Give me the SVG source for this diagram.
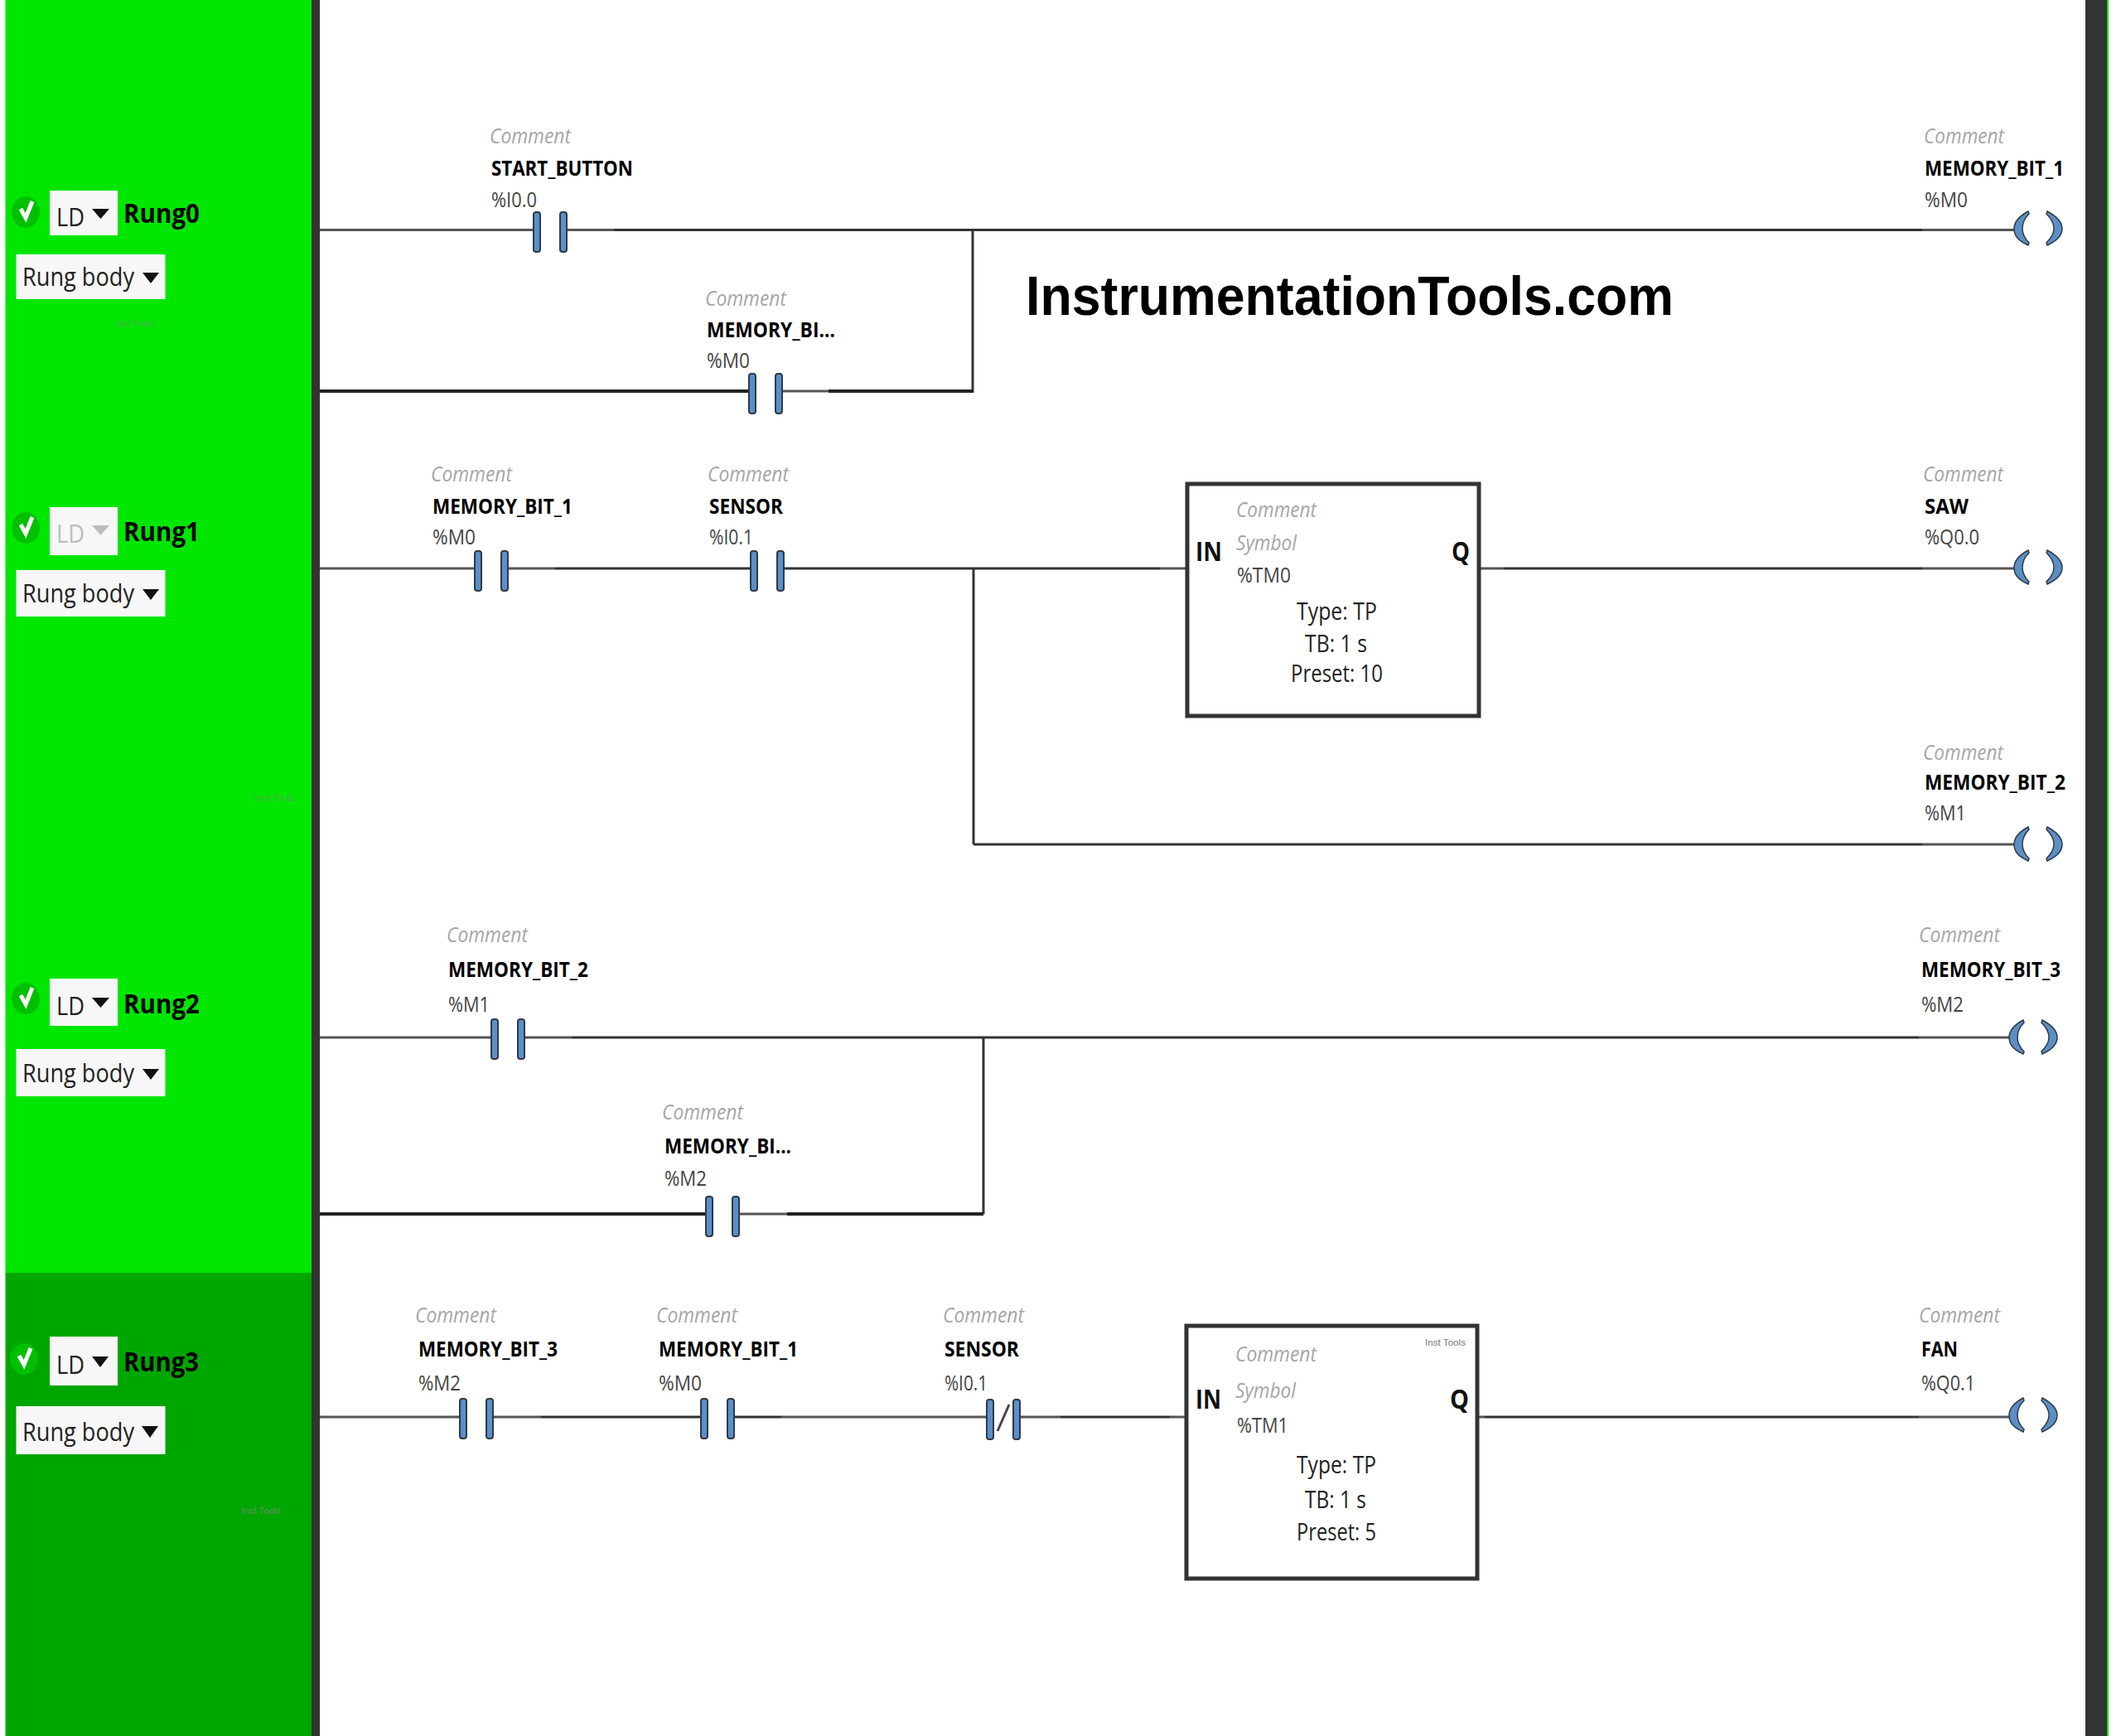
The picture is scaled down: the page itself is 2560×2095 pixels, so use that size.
<svg xmlns="http://www.w3.org/2000/svg" width="2560" height="2095" viewBox="0 0 2560 2095">
<style>
text{font-family:"Open Sans","Noto Sans","Liberation Sans",sans-serif;font-size:25px;fill:#222}
.c{fill:#a6a6a6;font-style:italic;font-weight:400}
.n{fill:#000;font-weight:700}
.a{fill:#444}
.p{font-size:29px;fill:#222}
.pin{font-size:32px;font-weight:700;fill:#111}
.r{font-size:33px;font-weight:700;fill:#000}
.d{font-size:31px;fill:#222}
.dis{fill:#bdbdbd}
.wm{font-family:"Liberation Sans",Arial,sans-serif;font-weight:700;font-size:66px;fill:#000}
.it{font-family:"Liberation Sans",Arial,sans-serif;font-size:10px;fill:#7a7a7a}
.box{fill:#f7f7f7}
.tri{fill:#111}
.w1{stroke:#555;stroke-width:3;fill:none}
.w2{stroke:#333;stroke-width:3;fill:none}
.w3{stroke:#222;stroke-width:4;fill:none}
.bar{fill:#5b8fc9;stroke:#2f3a46;stroke-width:2}
.pbody{fill:#5b8fc4;stroke:#2f3a46;stroke-width:1.500}
.tm{fill:#fff;stroke:#333;stroke-width:5}
</style>
<defs>
<g id="contact"><rect class="bar" x="-4" y="-23" width="8" height="48" rx="3"/><rect class="bar" x="28" y="-23" width="8" height="48" rx="3"/></g>
<g id="coil"><path class="pbody" d="M16-21C3-14-1-7-1 0C-1 8 3 14 16 20L17 17C11 11 9 6 9 0C9-6 11-12 17-18Z"/><path class="pbody" d="M39-21C52-14 57-7 57 0C57 8 52 14 39 20L38 17C44 11 47 6 47 0C47-6 44-12 38-18Z"/></g>
<g id="check"><ellipse rx="17" ry="19" fill="#00c000"/><path d="M-6-4L0 7L8-13" fill="none" stroke="#fff" stroke-width="5"/></g>
</defs>
<rect width="2560" height="2095" fill="#fff"/>
<rect x="6.500" y="0" width="369.500" height="1536" fill="#00e600"/>
<rect x="6.500" y="1536" width="369.500" height="559" fill="#00a600"/>
<rect x="376" y="0" width="10" height="2095" fill="#333"/>
<rect x="2517" y="0" width="26" height="2095" fill="#333"/>
<rect x="2543" y="0" width="2" height="2095" fill="#00e600"/>

<g id="connectors">
<path class="w1" d="M386 277.500H644M680 277.500H741M2320 277.500H2432"/><path class="w2" d="M741 277.500H2320M1174 277.500V474"/>
<path class="w3" d="M386 472H904M1000 472H1174"/><path class="w1" d="M943 472H1000"/>
<path class="w1" d="M386 686H572M613 686H670M1400 686H1432M1786 686H1815M2320 686H2432"/><path class="w2" d="M670 686H906M946 686H1400M1815 686H2320M1175 686V1019"/>
<path class="w1" d="M2320 1019H2432"/><path class="w2" d="M1175 1019H2320"/>
<path class="w1" d="M386 1252H592M631 1252H690M2316 1252H2427"/><path class="w2" d="M690 1252H2316M1187 1252V1465"/>
<path class="w3" d="M386 1465H852M950 1465H1187"/><path class="w1" d="M891 1465H950"/>
<path class="w1" d="M386 1710H555M594 1710H653M943 1710H1191M1231 1710H1280M1412 1710H1431M1784 1710H1792M2316 1710H2427"/><path class="w2" d="M653 1710H845M1280 1710H1412M1792 1710H2316"/>
<path class="w2" d="M885 1710H943"/>
</g>

<g id="rung0-panel">
<use href="#check" x="31" y="256"/>
<rect class="box" x="60" y="230" width="82" height="54"/><text class="d" x="68" y="273" textLength="34" lengthAdjust="spacingAndGlyphs">LD</text><path class="tri" d="M111 252H132L121.500 264Z"/>
<text class="r" x="149" y="269" textLength="92" lengthAdjust="spacingAndGlyphs">Rung0</text>
<rect class="box" x="19.500" y="307" width="180" height="54"/><text class="d" x="27" y="345" textLength="135" lengthAdjust="spacingAndGlyphs">Rung body</text><path class="tri" d="M172 329H192L182 342Z"/>
<text class="it" x="139" y="394" textLength="49" lengthAdjust="spacingAndGlyphs" style="fill:#48b048">Inst Tools</text>
</g>
<g id="rung1-panel">
<use href="#check" x="31" y="637"/>
<rect class="box" x="60" y="612" width="82" height="58"/><text class="d dis" x="68" y="655" textLength="34" lengthAdjust="spacingAndGlyphs">LD</text><path d="M111 634H132L121.500 646Z" fill="#bdbdbd"/>
<text class="r" x="149" y="653" textLength="92" lengthAdjust="spacingAndGlyphs">Rung1</text>
<rect class="box" x="19.500" y="688" width="180" height="56"/><text class="d" x="27" y="727" textLength="135" lengthAdjust="spacingAndGlyphs">Rung body</text><path class="tri" d="M172 711H192L182 724Z"/>
<text class="it" x="307" y="967" textLength="49" lengthAdjust="spacingAndGlyphs" style="fill:#48b048">Inst Tools</text>
</g>
<g id="rung2-panel">
<use href="#check" x="31" y="1205"/>
<rect class="box" x="60" y="1181" width="82" height="57"/><text class="d" x="68" y="1225" textLength="34" lengthAdjust="spacingAndGlyphs">LD</text><path class="tri" d="M111 1204H132L121.500 1216Z"/>
<text class="r" x="149" y="1223" textLength="92" lengthAdjust="spacingAndGlyphs">Rung2</text>
<rect class="box" x="19.500" y="1266" width="180" height="57"/><text class="d" x="27" y="1306" textLength="135" lengthAdjust="spacingAndGlyphs">Rung body</text><path class="tri" d="M172 1290H192L182 1303Z"/>
</g>
<g id="rung3-panel">
<use href="#check" x="29" y="1640"/>
<rect class="box" x="60" y="1613" width="82" height="59"/><text class="d" x="68" y="1658" textLength="34" lengthAdjust="spacingAndGlyphs">LD</text><path class="tri" d="M111 1637H131L121 1650Z"/>
<text class="r" x="149" y="1655" textLength="91" lengthAdjust="spacingAndGlyphs">Rung3</text>
<rect class="box" x="19.500" y="1697" width="180" height="58"/><text class="d" x="27" y="1739" textLength="135" lengthAdjust="spacingAndGlyphs">Rung body</text><path class="tri" d="M171 1721H191L181 1735Z"/>
<text class="it" x="291" y="1827" textLength="48" lengthAdjust="spacingAndGlyphs" style="fill:#6a8f6a">Inst Tools</text>
</g>

<g id="start-button">
<text class="c" x="591" y="173" textLength="98" lengthAdjust="spacingAndGlyphs">Comment</text>
<text class="n" x="593" y="212" textLength="171" lengthAdjust="spacingAndGlyphs">START_BUTTON</text>
<text class="a" x="593" y="250" textLength="55" lengthAdjust="spacingAndGlyphs">%I0.0</text>
<use href="#contact" x="648" y="279"/>
</g>
<g id="memory-bit-1-coil">
<text class="c" x="2322" y="173" textLength="97" lengthAdjust="spacingAndGlyphs">Comment</text>
<text class="n" x="2323" y="212" textLength="168" lengthAdjust="spacingAndGlyphs">MEMORY_BIT_1</text>
<text class="a" x="2323" y="250" textLength="52" lengthAdjust="spacingAndGlyphs">%M0</text>
<use href="#coil" x="2432" y="276"/>
</g>
<g id="memory-bit-holding-0">
<text class="c" x="851" y="369" textLength="98" lengthAdjust="spacingAndGlyphs">Comment</text>
<text class="n" x="853" y="407" textLength="155" lengthAdjust="spacingAndGlyphs">MEMORY_BI...</text>
<text class="a" x="853" y="444" textLength="52" lengthAdjust="spacingAndGlyphs">%M0</text>
<use href="#contact" x="908" y="474"/>
</g>
<g id="watermark">
<text class="wm" x="1238" y="380" textLength="782" lengthAdjust="spacingAndGlyphs">InstrumentationTools.com</text>
</g>

<g id="memory-bit-1-r1">
<text class="c" x="520" y="581" textLength="98" lengthAdjust="spacingAndGlyphs">Comment</text>
<text class="n" x="522" y="620" textLength="169" lengthAdjust="spacingAndGlyphs">MEMORY_BIT_1</text>
<text class="a" x="522" y="657" textLength="52" lengthAdjust="spacingAndGlyphs">%M0</text>
<use href="#contact" x="577" y="688"/>
</g>
<g id="sensor-r1">
<text class="c" x="854" y="581" textLength="98" lengthAdjust="spacingAndGlyphs">Comment</text>
<text class="n" x="856" y="620" textLength="89" lengthAdjust="spacingAndGlyphs">SENSOR</text>
<text class="a" x="856" y="657" textLength="53" lengthAdjust="spacingAndGlyphs">%I0.1</text>
<use href="#contact" x="910" y="688"/>
</g>
<g id="timer-tm0">
<rect class="tm" x="1433" y="584" width="352" height="280"/>
<text class="pin" x="1443" y="677" textLength="32" lengthAdjust="spacingAndGlyphs">IN</text>
<text class="pin" x="1752" y="677" textLength="22" lengthAdjust="spacingAndGlyphs">Q</text>
<text class="c" x="1492" y="624" textLength="97" lengthAdjust="spacingAndGlyphs">Comment</text>
<text class="c" x="1492" y="664" textLength="73" lengthAdjust="spacingAndGlyphs">Symbol</text>
<text class="a" x="1493" y="703" textLength="65" lengthAdjust="spacingAndGlyphs">%TM0</text>
<text class="p" x="1565" y="748" textLength="97" lengthAdjust="spacingAndGlyphs">Type: TP</text>
<text class="p" x="1575" y="787" textLength="75" lengthAdjust="spacingAndGlyphs">TB: 1 s</text>
<text class="p" x="1558" y="823" textLength="111" lengthAdjust="spacingAndGlyphs">Preset: 10</text>
</g>
<g id="saw-coil">
<text class="c" x="2321" y="581" textLength="97" lengthAdjust="spacingAndGlyphs">Comment</text>
<text class="n" x="2323" y="620" textLength="53" lengthAdjust="spacingAndGlyphs">SAW</text>
<text class="a" x="2323" y="657" textLength="66" lengthAdjust="spacingAndGlyphs">%Q0.0</text>
<use href="#coil" x="2432" y="685"/>
</g>
<g id="memory-bit-2-coil">
<text class="c" x="2321" y="917" textLength="97" lengthAdjust="spacingAndGlyphs">Comment</text>
<text class="n" x="2323" y="953" textLength="170" lengthAdjust="spacingAndGlyphs">MEMORY_BIT_2</text>
<text class="a" x="2323" y="990" textLength="50" lengthAdjust="spacingAndGlyphs">%M1</text>
<use href="#coil" x="2432" y="1019"/>
</g>

<g id="memory-bit-2-r2">
<text class="c" x="539" y="1137" textLength="98" lengthAdjust="spacingAndGlyphs">Comment</text>
<text class="n" x="541" y="1179" textLength="169" lengthAdjust="spacingAndGlyphs">MEMORY_BIT_2</text>
<text class="a" x="541" y="1221" textLength="50" lengthAdjust="spacingAndGlyphs">%M1</text>
<use href="#contact" x="597" y="1253"/>
</g>
<g id="memory-bit-3-coil">
<text class="c" x="2316" y="1137" textLength="98" lengthAdjust="spacingAndGlyphs">Comment</text>
<text class="n" x="2319" y="1179" textLength="168" lengthAdjust="spacingAndGlyphs">MEMORY_BIT_3</text>
<text class="a" x="2319" y="1221" textLength="51" lengthAdjust="spacingAndGlyphs">%M2</text>
<use href="#coil" x="2426" y="1252"/>
</g>
<g id="memory-bit-holding-2">
<text class="c" x="799" y="1351" textLength="98" lengthAdjust="spacingAndGlyphs">Comment</text>
<text class="n" x="802" y="1392" textLength="153" lengthAdjust="spacingAndGlyphs">MEMORY_BI...</text>
<text class="a" x="802" y="1431" textLength="51" lengthAdjust="spacingAndGlyphs">%M2</text>
<use href="#contact" x="856" y="1467"/>
</g>

<g id="memory-bit-3-r3">
<text class="c" x="501" y="1596" textLength="98" lengthAdjust="spacingAndGlyphs">Comment</text>
<text class="n" x="505" y="1637" textLength="168" lengthAdjust="spacingAndGlyphs">MEMORY_BIT_3</text>
<text class="a" x="505" y="1678" textLength="51" lengthAdjust="spacingAndGlyphs">%M2</text>
<use href="#contact" x="559" y="1711"/>
</g>
<g id="memory-bit-1-r3">
<text class="c" x="792" y="1596" textLength="98" lengthAdjust="spacingAndGlyphs">Comment</text>
<text class="n" x="795" y="1637" textLength="168" lengthAdjust="spacingAndGlyphs">MEMORY_BIT_1</text>
<text class="a" x="795" y="1678" textLength="52" lengthAdjust="spacingAndGlyphs">%M0</text>
<use href="#contact" x="850" y="1711"/>
</g>
<g id="sensor-r3">
<text class="c" x="1138" y="1596" textLength="98" lengthAdjust="spacingAndGlyphs">Comment</text>
<text class="n" x="1140" y="1637" textLength="90" lengthAdjust="spacingAndGlyphs">SENSOR</text>
<text class="a" x="1140" y="1678" textLength="52" lengthAdjust="spacingAndGlyphs">%I0.1</text>
<use href="#contact" x="1195" y="1712"/>
<path d="M1204 1727L1218 1695" stroke="#444" stroke-width="3" fill="none"/>
</g>
<g id="timer-tm1">
<rect class="tm" x="1432" y="1600" width="351" height="305"/>
<text class="pin" x="1443" y="1700" textLength="31" lengthAdjust="spacingAndGlyphs">IN</text>
<text class="pin" x="1750" y="1700" textLength="23" lengthAdjust="spacingAndGlyphs">Q</text>
<text class="c" x="1491" y="1643" textLength="98" lengthAdjust="spacingAndGlyphs">Comment</text>
<text class="c" x="1491" y="1687" textLength="73" lengthAdjust="spacingAndGlyphs">Symbol</text>
<text class="a" x="1493" y="1729" textLength="62" lengthAdjust="spacingAndGlyphs">%TM1</text>
<text class="p" x="1565" y="1778" textLength="96" lengthAdjust="spacingAndGlyphs">Type: TP</text>
<text class="p" x="1575" y="1820" textLength="74" lengthAdjust="spacingAndGlyphs">TB: 1 s</text>
<text class="p" x="1565" y="1859" textLength="96" lengthAdjust="spacingAndGlyphs">Preset: 5</text>
<text class="it" x="1720" y="1624" textLength="49" lengthAdjust="spacingAndGlyphs">Inst Tools</text>
</g>
<g id="fan-coil">
<text class="c" x="2316" y="1596" textLength="98" lengthAdjust="spacingAndGlyphs">Comment</text>
<text class="n" x="2319" y="1637" textLength="44" lengthAdjust="spacingAndGlyphs">FAN</text>
<text class="a" x="2319" y="1678" textLength="65" lengthAdjust="spacingAndGlyphs">%Q0.1</text>
<use href="#coil" x="2426" y="1708"/>
</g>
</svg>
